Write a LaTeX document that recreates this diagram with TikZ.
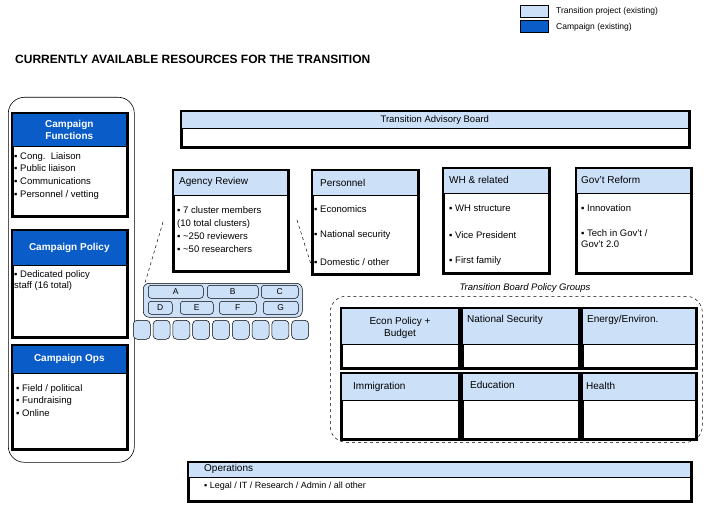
\documentclass[tikz,border=0pt]{standalone}
\usepackage{fontspec}
\setmainfont{Liberation Sans}
\usetikzlibrary{positioning}
\definecolor{lb}{HTML}{CCE0F8}
\definecolor{db}{HTML}{0A5CC8}
\tikzset{
  boxbody/.style={draw=black,line width=1.8pt,fill=white,anchor=north west,inner sep=0pt},
  hdrlight/.style={draw=black,line width=0.6pt,fill=lb,anchor=north west,inner sep=0pt},
  hdrdark/.style={draw=black,line width=0.6pt,fill=db,anchor=north west,inner sep=0pt},
  txt/.style={font=\fontsize{9.5}{11.5}\selectfont,inner sep=0pt,align=left},
  wtxt/.style={font=\fontsize{10}{12.5}\selectfont\bfseries,text=white,inner sep=0pt,align=center},
  smallbox/.style={draw=black,line width=0.5pt,fill=lb,rounded corners=3pt,minimum height=14pt,inner sep=0pt,font=\fontsize{8.5}{9}\selectfont},
}
\newcommand{\tbox}[7]{%
  \node[boxbody,minimum width=#4pt,minimum height=#5pt] (#1) at (#2,#3) {};
  \node[#7,minimum width=#4pt,minimum height=#6pt] (#1h) at (#2,#3) {};
  \draw[line width=1.8pt] (#1.north west) rectangle (#1.south east);
}
\begin{document}
\begin{tikzpicture}[x=1pt,y=-1pt]
\useasboundingbox (0,0) rectangle (706,529);
% legend
\node[draw,fill=lb,minimum width=28pt,minimum height=12pt,inner sep=0pt,anchor=north west] (lg1) at (520,5) {};
\node[draw,fill=db,minimum width=28pt,minimum height=12pt,inner sep=0pt,anchor=north west] (lg2) at (520,20) {};
\node[txt,anchor=west,font=\fontsize{8.5}{9}\selectfont] (lt1) at (556,11) {Transition project (existing)};
\node[txt,anchor=west,font=\fontsize{8.5}{9}\selectfont] (lt2) at (556,27) {Campaign (existing)};
% title
\node[anchor=west,inner sep=0pt,font=\fontsize{12}{14}\selectfont\bfseries] (title) at (15,59) {CURRENTLY AVAILABLE RESOURCES FOR THE TRANSITION};
% left outer
\node[draw,line width=0.6pt,rounded corners=16pt,minimum width=126pt,minimum height=365pt,anchor=north west,inner sep=0pt] (outer) at (8,97) {};
% campaign boxes
\tbox{cf}{12}{113}{114}{102}{33}{hdrdark}
\node[wtxt] (cft) at (cfh.center) {Campaign\\Functions};
\node[txt,anchor=north west,font=\fontsize{9.5}{12.8}\selectfont] (cfb) at (14,152) {▪ Cong.\ \ Liaison\\▪ Public liaison\\▪ Communications\\▪ Personnel / vetting};
\tbox{cp}{12}{230}{114}{106}{35}{hdrdark}
\node[wtxt] (cpt) at (cph.center) {Campaign Policy};
\node[txt,anchor=north west] (cpb) at (14,270) {▪ Dedicated policy\\staff (16 total)};
\tbox{co}{12}{345}{114}{103}{28}{hdrdark}
\node[wtxt] (cot) at (coh.center) {Campaign Ops};
\node[txt,anchor=north west,font=\fontsize{9.5}{12.8}\selectfont] (cob) at (16,384) {▪ Field / political\\▪ Fundraising\\▪ Online};
% advisory board
\tbox{tab}{181}{111}{507}{35}{17}{hdrlight}
\node[txt] (tabt) at (tabh.center) {Transition Advisory Board};
% agency review etc.
\tbox{ar}{173}{170}{114}{100}{25}{hdrlight}
\node[txt,anchor=west,font=\fontsize{10}{12}\selectfont] (art) at (179,182) {Agency Review};
\node[txt,anchor=north west,font=\fontsize{9.5}{13}\selectfont] (arb) at (177,206) {▪ 7 cluster members\\(10 total clusters)\\▪ \textasciitilde 250 reviewers\\▪ \textasciitilde 50 researchers};
\tbox{pe}{312}{170}{105}{103}{25}{hdrlight}
\node[txt,anchor=west,font=\fontsize{10}{12}\selectfont] (pet) at (320,183) {Personnel};
\node[txt,anchor=west] (pe1) at (314,209) {▪ Economics};
\node[txt,anchor=west] (pe2) at (314,235) {▪ National security};
\node[txt,anchor=west] (pe3) at (314,262) {▪ Domestic / other};
\tbox{wh}{443}{168}{105}{104}{25}{hdrlight}
\node[txt,anchor=west,font=\fontsize{10}{12}\selectfont] (wht) at (449,180) {WH \& related};
\node[txt,anchor=west] (wh1) at (449,208) {▪ WH structure};
\node[txt,anchor=west] (wh2) at (449,235) {▪ Vice President};
\node[txt,anchor=west] (wh3) at (449,261) {▪ First family};
\tbox{gr}{576}{168}{114}{104}{25}{hdrlight}
\node[txt,anchor=west,font=\fontsize{10}{12}\selectfont] (grt) at (581,180) {Gov’t Reform};
\node[txt,anchor=west] (gr1) at (581,208) {▪ Innovation};
\node[txt,anchor=north west] (gr2) at (581,229) {▪ Tech in Gov’t /\\Gov’t 2.0};
% dashed zoom lines
\coordinate (dl1) at (163,222); \coordinate (dl2) at (145,283);
\coordinate (dr1) at (297,220); \coordinate (dr2) at (315,277);
\draw[dashed,line width=0.5pt] (dl1) -- (dl2);
\draw[dashed,line width=0.5pt] (dr1) -- (dr2);
% clusters
\node[draw,line width=0.5pt,fill=lb,rounded corners=6pt,minimum width=159pt,minimum height=34pt,anchor=north west,inner sep=0pt] (clp) at (143,283) {};
\node[smallbox,minimum width=55pt,anchor=north west,minimum height=13pt] (cA) at (148,285) {A};
\node[smallbox,minimum width=51pt,anchor=north west,minimum height=13pt] (cB) at (207,285) {B};
\node[smallbox,minimum width=37pt,anchor=north west,minimum height=13pt] (cC) at (261,285) {C};
\node[smallbox,minimum width=24pt,anchor=north west,minimum height=13pt] (cD) at (148,301) {D};
\node[smallbox,minimum width=33pt,anchor=north west,minimum height=13pt] (cE) at (180,301) {E};
\node[smallbox,minimum width=37pt,anchor=north west,minimum height=13pt] (cF) at (219,301) {F};
\node[smallbox,minimum width=35pt,anchor=north west,minimum height=13pt] (cG) at (263,301) {G};
\foreach \i in {0,...,8}{
  \node[smallbox,minimum width=17pt,minimum height=19pt,anchor=north west,rounded corners=4pt] (sb\i) at ({133+\i*19.8},320) {};
}
% policy groups
\node[font=\fontsize{9.5}{11}\selectfont\itshape,inner sep=0pt] (tbpg) at (525,288) {Transition Board Policy Groups};
\node[draw,dashed,line width=0.5pt,rounded corners=16pt,minimum width=372pt,minimum height=146pt,anchor=north west,inner sep=0pt] (pgr) at (330,296) {};
\tbox{p1}{341}{308}{117}{59}{36}{hdrlight}
\node[txt,align=center,font=\fontsize{10}{12.5}\selectfont] (p1t) at (400,328) {Econ Policy +\\Budget};
\tbox{p2}{462}{308}{116}{59}{36}{hdrlight}
\node[txt,anchor=west,font=\fontsize{10}{12}\selectfont] (p2t) at (467,320) {National Security};
\tbox{p3}{582}{308}{113}{59}{36}{hdrlight}
\node[txt,anchor=west,font=\fontsize{10}{12}\selectfont] (p3t) at (587,320) {Energy/Environ.};
\tbox{p4}{341}{373}{117}{65}{27}{hdrlight}
\node[txt,anchor=west,font=\fontsize{10}{12}\selectfont] (p4t) at (353,387) {Immigration};
\tbox{p5}{462}{373}{116}{65}{27}{hdrlight}
\node[txt,anchor=west,font=\fontsize{10}{12}\selectfont] (p5t) at (470,385) {Education};
\tbox{p6}{582}{373}{113}{65}{27}{hdrlight}
\node[txt,anchor=west,font=\fontsize{10}{12}\selectfont] (p6t) at (586,386) {Health};
% operations
\tbox{op}{188}{462}{502}{38}{15}{hdrlight}
\node[txt,anchor=west,font=\fontsize{10}{12}\selectfont] (opt) at (204,469) {Operations};
\node[txt,anchor=west,font=\fontsize{9}{10}\selectfont] (opb) at (204,486) {▪ Legal / IT / Research / Admin / all other};
\end{tikzpicture}
\end{document}
